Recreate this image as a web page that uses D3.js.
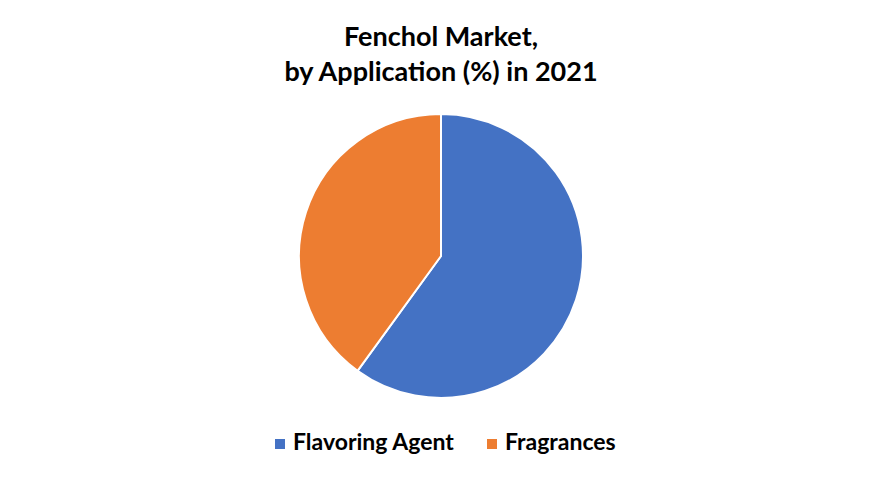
<!DOCTYPE html>
<html>
<head>
<meta charset="utf-8">
<script src="https://cdn.jsdelivr.net/npm/d3@7"></script>
<style>
  body { margin: 0; background: #fff; }
  svg text { font-family: Lato, "Open Sans", sans-serif; font-weight: bold; fill: #000; }
</style>
</head>
<body>
<svg id="chart" width="882" height="478"></svg>
<script>
// Data
var categories = ["Flavoring Agent", "Fragrances"];
var shares = [60, 40];
var colors = ["#4472C4", "#ED7D31"];
var titleLines = ["Fenchol Market,", "by Application (%) in 2021"];

var width = 882, height = 478;
var cx = 441, cy = 256, radius = 142;

var svg = d3.select("#chart");

// title
svg.append("g").selectAll("text")
  .data(titleLines)
  .enter().append("text")
  .attr("x", cx)
  .attr("y", function (d, i) { return 46 + i * 35; })
  .attr("text-anchor", "middle")
  .style("font-size", "27px")
  .text(function (d) { return d; });

// pie
var pie = d3.pie().sort(null).value(function (d) { return d; });
var arc = d3.arc().innerRadius(0).outerRadius(radius);
var color = d3.scaleOrdinal().domain(categories).range(colors);

svg.append("g")
  .attr("transform", "translate(" + cx + "," + cy + ")")
  .selectAll("path")
  .data(pie(shares))
  .enter().append("path")
  .attr("d", arc)
  .attr("fill", function (d, i) { return color(categories[i]); })
  .attr("stroke", "#fff")
  .attr("stroke-width", 2)
  .attr("stroke-linejoin", "round");

// legend
var legend = svg.append("g");
var legendX = [275, 487];
var items = legend.selectAll("g")
  .data(categories)
  .enter().append("g")
  .attr("transform", function (d, i) { return "translate(" + legendX[i] + ",439)"; });
items.append("rect")
  .attr("width", 10).attr("height", 10)
  .attr("fill", function (d) { return color(d); });
items.append("text")
  .attr("x", 18).attr("y", 11)
  .style("font-size", "23px")
  .text(function (d) { return d; });
</script>
</body>
</html>
